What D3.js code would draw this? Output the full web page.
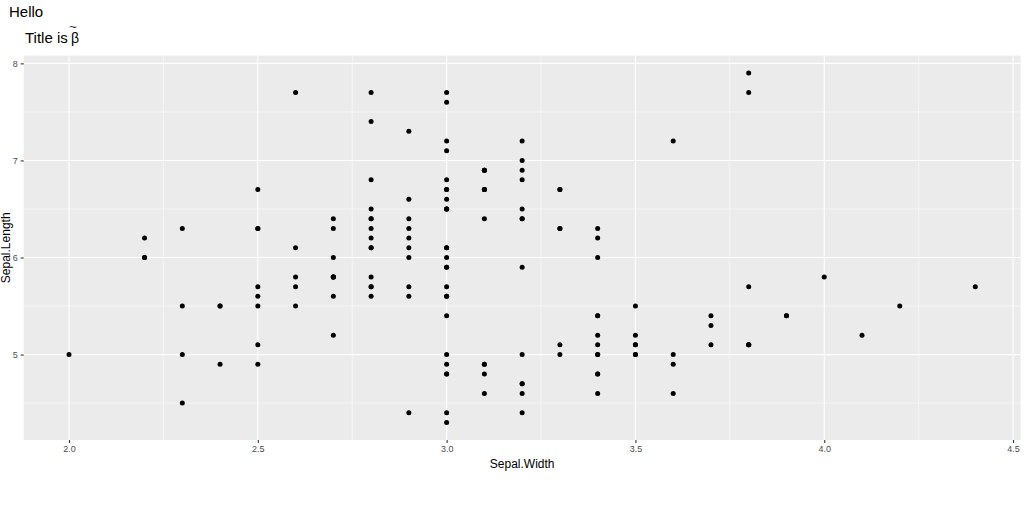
<!DOCTYPE html>
<meta charset="utf-8">
<body style="margin:0;background:#fff">
<script src="https://d3js.org/d3.v7.min.js"></script>
<script>

// iris: Sepal.Width (x) and Sepal.Length (y)
var sepalWidth = [3.5,3.0,3.2,3.1,3.6,3.9,3.4,3.4,2.9,3.1,3.7,3.4,3.0,3.0,4.0,4.4,3.9,3.5,3.8,3.8,
  3.4,3.7,3.6,3.3,3.4,3.0,3.4,3.5,3.4,3.2,3.1,3.4,4.1,4.2,3.1,3.2,3.5,3.6,3.0,3.4,
  3.5,2.3,3.2,3.5,3.8,3.0,3.8,3.2,3.7,3.3,3.2,3.2,3.1,2.3,2.8,2.8,3.3,2.4,2.9,2.7,
  2.0,3.0,2.2,2.9,2.9,3.1,3.0,2.7,2.2,2.5,3.2,2.8,2.5,2.8,2.9,3.0,2.8,3.0,2.9,2.6,
  2.4,2.4,2.7,2.7,3.0,3.4,3.1,2.3,3.0,2.5,2.6,3.0,2.6,2.3,2.7,3.0,2.9,2.9,2.5,2.8,
  3.3,2.7,3.0,2.9,3.0,3.0,2.5,2.9,2.5,3.6,3.2,2.7,3.0,2.5,2.8,3.2,3.0,3.8,2.6,2.2,
  3.2,2.8,2.8,2.7,3.3,3.2,2.8,3.0,2.8,3.0,2.8,3.8,2.8,2.8,2.6,3.0,3.4,3.1,3.0,3.1,
  3.1,3.1,2.7,3.2,3.3,3.0,2.5,3.0,3.4,3.0];
var sepalLength = [5.1,4.9,4.7,4.6,5.0,5.4,4.6,5.0,4.4,4.9,5.4,4.8,4.8,4.3,5.8,5.7,5.4,5.1,5.7,5.1,
  5.4,5.1,4.6,5.1,4.8,5.0,5.0,5.2,5.2,4.7,4.8,5.4,5.2,5.5,4.9,5.0,5.5,4.9,4.4,5.1,
  5.0,4.5,4.4,5.0,5.1,4.8,5.1,4.6,5.3,5.0,7.0,6.4,6.9,5.5,6.5,5.7,6.3,4.9,6.6,5.2,
  5.0,5.9,6.0,6.1,5.6,6.7,5.6,5.8,6.2,5.6,5.9,6.1,6.3,6.1,6.4,6.6,6.8,6.7,6.0,5.7,
  5.5,5.5,5.8,6.0,5.4,6.0,6.7,6.3,5.6,5.5,5.5,6.1,5.8,5.0,5.6,5.7,5.7,6.2,5.1,5.7,
  6.3,5.8,7.1,6.3,6.5,7.6,4.9,7.3,6.7,7.2,6.5,6.4,6.8,5.7,5.8,6.4,6.5,7.7,7.7,6.0,
  6.9,5.6,7.7,6.3,6.7,7.2,6.2,6.1,6.4,7.2,7.4,7.9,6.4,6.3,6.1,7.7,6.3,6.4,6.0,6.9,
  6.7,6.9,5.8,6.8,6.7,6.7,6.3,6.5,6.2,5.9];

var xTicks = [2.0, 2.5, 3.0, 3.5, 4.0, 4.5];
var xMinor = [2.25, 2.75, 3.25, 3.75, 4.25];
var yTicks = [5, 6, 7, 8];
var yMinor = [4.5, 5.5, 6.5, 7.5];

var width = 1024, height = 506;
var panel = {left: 23.7, right: 1020.6, top: 55.6, bottom: 440};

var svg = d3.select("body").append("svg")
    .attr("width", width)
    .attr("height", height)
    .style("font-family", "Liberation Sans, Arial, sans-serif");

// ggplot-like 5% expansion
var xExt = d3.extent(sepalWidth), xPad = (xExt[1] - xExt[0]) * 0.05;
var yExt = d3.extent(sepalLength), yPad = (yExt[1] - yExt[0]) * 0.05;

var x = d3.scaleLinear()
    .domain([xExt[0] - xPad, xExt[1] + xPad])
    .range([panel.left, panel.right]);
var y = d3.scaleLinear()
    .domain([yExt[0] - yPad, yExt[1] + yPad])
    .range([panel.bottom, panel.top]);

svg.append("rect")
    .attr("x", panel.left).attr("y", panel.top)
    .attr("width", panel.right - panel.left)
    .attr("height", panel.bottom - panel.top)
    .attr("fill", "#ebebeb");

// grid
var grid = svg.append("g");
grid.selectAll(".xm").data(xMinor).enter().append("line")
    .attr("x1", x).attr("x2", x).attr("y1", panel.top).attr("y2", panel.bottom)
    .attr("stroke", "#fff").attr("stroke-width", 0.55);
grid.selectAll(".ym").data(yMinor).enter().append("line")
    .attr("y1", y).attr("y2", y).attr("x1", panel.left).attr("x2", panel.right)
    .attr("stroke", "#fff").attr("stroke-width", 0.55);
grid.selectAll(".xM").data(xTicks).enter().append("line")
    .attr("x1", x).attr("x2", x).attr("y1", panel.top).attr("y2", panel.bottom)
    .attr("stroke", "#fff").attr("stroke-width", 1.1);
grid.selectAll(".yM").data(yTicks).enter().append("line")
    .attr("y1", y).attr("y2", y).attr("x1", panel.left).attr("x2", panel.right)
    .attr("stroke", "#fff").attr("stroke-width", 1.1);

// axes
var xAxis = svg.append("g")
    .attr("transform", "translate(0," + panel.bottom + ")")
    .call(d3.axisBottom(x).tickValues(xTicks).tickFormat(d3.format(".1f")).tickSize(3).tickPadding(3));
var yAxis = svg.append("g")
    .attr("transform", "translate(" + panel.left + ",0)")
    .call(d3.axisLeft(y).tickValues(yTicks).tickFormat(d3.format("d")).tickSize(3).tickPadding(3));
[xAxis, yAxis].forEach(function(a) {
  a.select(".domain").remove();
  a.selectAll(".tick line").attr("stroke", "#333").attr("stroke-width", 1.1);
  a.selectAll(".tick text").attr("fill", "#4d4d4d").style("font-size", "9px")
      .style("font-family", "Liberation Sans, Arial, sans-serif");
});

// points
svg.append("g").selectAll("circle")
    .data(sepalWidth)
    .enter().append("circle")
    .attr("cx", function(d) { return x(d); })
    .attr("cy", function(d, i) { return y(sepalLength[i]); })
    .attr("r", 2.5)
    .attr("fill", "#000");

// labels
svg.append("text")
    .attr("x", (panel.left + panel.right) / 2)
    .attr("y", 468)
    .attr("text-anchor", "middle")
    .style("font-size", "12px")
    .text("Sepal.Width");
svg.append("text")
    .attr("transform", "translate(10," + ((panel.top + panel.bottom) / 2) + ") rotate(-90)")
    .attr("text-anchor", "middle")
    .style("font-size", "12px")
    .text("Sepal.Length");

svg.append("text")
    .attr("x", 9).attr("y", 17)
    .style("font-size", "15px")
    .text("Hello");
var sub = svg.append("text")
    .attr("x", 25).attr("y", 43)
    .style("font-size", "15px");
sub.append("tspan").text("Title is ");
sub.append("tspan").attr("dx", -1).style("font-size", "14px").text("β");
// wide tilde over beta
svg.append("text")
    .attr("x", 73).attr("y", 31)
    .attr("text-anchor", "middle")
    .attr("fill", "#222")
    .style("font-size", "13px")
    .text("~");

</script>
</body>
